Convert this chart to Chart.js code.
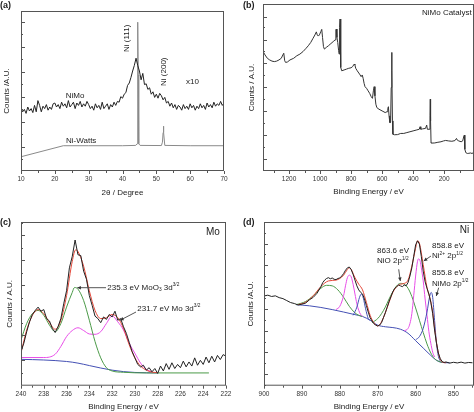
<!DOCTYPE html>
<html>
<head>
<meta charset="utf-8">
<script src="https://cdn.jsdelivr.net/npm/chart.js@4"></script>
<style>
  body { margin: 0; background: #fff; }
  #wrap { position: relative; width: 474px; height: 412px; }
  canvas { position: absolute; }
</style>
</head>
<body>
<div id="wrap">
  <canvas id="chartA" width="237" height="206" style="left:0;top:0"></canvas>
  <canvas id="chartB" width="237" height="206" style="left:237px;top:0"></canvas>
  <canvas id="chartC" width="237" height="206" style="left:0;top:206px"></canvas>
  <canvas id="chartD" width="237" height="206" style="left:237px;top:206px"></canvas>
</div>
<script>
Chart.defaults.font.family = "'Liberation Sans', Arial, sans-serif";
Chart.defaults.color = "#333";

// (a) XRD patterns
const xrdTicks = [10, 20, 30, 40, 50, 60, 70];
const xrdAngle = [10, 10.5, 11, 11.5, 12, 12.5, 13, 13.5, 14, 14.5, 15, 15.5, 16, 16.5, 17, 17.5, 18, 18.5, 19, 19.5,
  20, 20.5, 21, 21.5, 22, 22.5, 23, 23.5, 24, 24.5, 25, 25.5, 26, 26.5, 27, 27.5, 28, 28.5, 29, 29.5,
  30, 30.5, 31, 31.5, 32, 32.5, 33, 33.5, 34, 34.5, 35, 35.5, 36, 36.5, 37, 37.5, 38, 38.5, 39, 39.5,
  40, 40.5, 41, 41.5, 42, 42.5, 43, 43.5, 44, 44.5, 45, 45.5, 46, 46.5, 47, 47.5, 48, 48.5, 49, 49.5,
  50, 50.5, 51, 51.5, 52, 52.5, 53, 53.5, 54, 54.5, 55, 55.5, 56, 56.5, 57, 57.5, 58, 58.5, 59, 59.5,
  60, 60.5, 61, 61.5, 62, 62.5, 63, 63.5, 64, 64.5, 65, 65.5, 66, 66.5, 67, 67.5, 68, 68.5, 69, 69.5, 70];
const xrdNiMo = [39.5, 37, 38.5, 36, 40, 37.5, 39, 36.5, 41, 37, 44, 41, 37, 40.5, 39, 41.5, 38, 40, 38.5, 42,
  42.5, 40, 41.5, 39, 43, 40.5, 42, 39.5, 44, 40, 41.5, 43, 39, 42.5, 41, 43.5, 40, 42, 40.5, 43.5,
  41.5, 39, 40.5, 38, 42, 39.5, 41, 38.5, 43, 39, 40.5, 42, 38.5, 41.5, 40, 43, 41, 43.5, 43, 46.5,
  45.5, 48, 49, 53.5, 55, 58.5, 62.5, 66, 70.5, 66, 62.5, 57, 61, 54, 54.5, 51, 52, 48, 49.5, 46,
  48, 45.5, 48.5, 47, 44.5, 46, 42.5, 43.5, 40.5, 42.5, 39.5, 41.5, 38.5, 41, 40, 38, 41.5, 39, 40.5, 38.5,
  42, 39.5, 41, 38, 40.5, 39, 42, 39.5, 41, 38.5, 42.5, 40, 41.5, 39.5, 43, 40.5, 42, 41, 43.5, 41, 42.5];
const wattsAngle = [10, 22.5, 30, 40, 43.9, 44.3, 44.45, 44.55, 44.65, 44.8, 45.2, 51.5, 51.8, 52, 52.1, 52.2, 52.5, 60, 70];
const wattsCounts = [8.9, 15.8, 15.8, 15.8, 16, 17, 60, 93, 60, 17, 16, 15.9, 18, 24, 28, 24, 16, 15.8, 15.8];

// (b) survey spectrum
const surveyTicks = [200, 400, 600, 800, 1000, 1200];
const surveyEnergy = [1370, 1355, 1340, 1325, 1310, 1295, 1280, 1265, 1250, 1240, 1234, 1228, 1222, 1210, 1194, 1170, 1150, 1130,
  1110, 1090, 1076, 1060, 1045, 1033, 1024, 1018, 1011, 1004, 995, 989, 984, 978, 972, 960, 946, 930, 915, 903,
  898, 895, 891, 886, 880, 877, 874, 871, 868, 865, 860, 845, 830, 815, 800, 790, 780, 775, 770, 760, 745, 735,
  728, 722, 716, 710, 700, 690, 680, 670, 662, 656, 651, 646, 640, 634, 620, 600, 580, 568, 563, 559, 555, 550,
  545, 541, 538, 536, 533, 530, 520, 500, 480, 460, 440, 420, 400, 380, 360, 355, 350, 340, 320, 312, 308, 296,
  291, 289, 287, 284, 282, 260, 240, 220, 204, 190, 170, 150, 130, 120, 115, 105, 90, 80, 72, 69, 66, 60,
  50, 40, 30, 20, 10, 6];
const surveyCounts = [72, 69.5, 67.5, 66.5, 65.8, 65.5, 65.8, 66.5, 67.5, 69.5, 70.5, 66, 65, 65.3, 66.5, 67.5, 69, 70,
  71.5, 73.5, 75, 77, 79.5, 81.5, 83.3, 81.5, 80.8, 81.5, 83.5, 84.8, 80, 74.5, 73, 74, 75, 76.3, 77.5, 78.5,
  84.5, 85, 80, 77, 72, 70, 86, 91, 75, 62, 60, 60.5, 61, 61.5, 61.8, 62.5, 64, 63.5, 61.5, 60, 58, 56.5,
  57.5, 55.5, 52.5, 50.5, 49.5, 48, 46.5, 44.5, 43.5, 48, 50.5, 45, 40, 38, 37, 36, 35, 35.5, 37.5, 38.5, 33, 29,
  29, 50, 71, 60, 30, 22, 21.7, 21.8, 22.5, 22.5, 23, 23.5, 24, 24.5, 25, 26.5, 25, 25.2, 25.5, 27.5, 25, 25,
  33, 43, 30, 17, 16.7, 16.8, 17.2, 17.5, 18, 18.3, 18, 17.8, 18.2, 19.5, 18.5, 18, 17.5, 18, 21, 21.5, 13, 11,
  10.5, 10.6, 10.8, 10.5, 11, 12];

// (c) Mo 3d
const moTicks = [222, 224, 226, 228, 230, 232, 234, 236, 238, 240];
const moEnergy = [240, 239.75, 239.5, 239.25, 239, 238.75, 238.5, 238.25, 238, 237.75, 237.5, 237.25, 237, 236.75, 236.5, 236.25,
  236, 235.75, 235.5, 235.25, 235, 234.75, 234.5, 234.25, 234, 233.75, 233.5, 233.25, 233, 232.75, 232.5, 232.25,
  232, 231.75, 231.5, 231.25, 231, 230.75, 230.5, 230.25, 230, 229.75, 229.5, 229.25, 229, 228.75, 228.5, 228.25,
  228, 227.75, 227.5, 227.25, 227, 226.75, 226.5, 226.25, 226, 225.75, 225.5, 225.25, 225, 224.75, 224.5, 224.25,
  224, 223.75, 223.5, 223.25, 223, 222.75, 222.5, 222.25, 222];
const moRaw = [21, 26, 33, 39, 43.5, 46, 48, 45.5, 46.5, 41, 39.5, 35, 32.5, 36, 41, 50,
  58, 72, 79, 89, 80, 79.5, 70, 65, 55, 49, 42.5, 41, 38.5, 42, 40.5, 43.5,
  42, 45.5, 40, 41, 36, 32, 26.5, 21, 17, 13, 11.5, 12.5, 9.5, 11, 8.5, 10.5,
  7.5, 12, 9, 13.5, 10, 14, 10.5, 13, 11, 15, 11.5, 14.5, 12, 17, 12.5, 15.5,
  13, 17.5, 14, 18, 14.5, 18.5, 16, 19, 18];
const moFitE = [240, 239.5, 239, 238.5, 238, 237.5, 237, 236.5, 236, 235.5, 235.2, 235, 234.5, 234, 233.5, 233,
  232.5, 232, 231.5, 231, 230.5, 230, 229.5, 229, 228.5, 228];
const moFit = [20, 34, 43, 46.5, 44, 38.5, 34.5, 40, 55, 76, 83, 82, 73, 58, 46, 41,
  41.5, 43.5, 41.5, 35, 25, 17, 12, 9.5, 8.3, 8];
const moOxideE = [240, 239.5, 239, 238.5, 238, 237.5, 237, 236.5, 236, 235.5, 235.3, 235, 234.5, 234, 233.5, 233,
  232.5, 232, 231, 229, 223.5];
const moOxide = [28, 38, 44, 46, 43, 37, 33, 38, 48, 57, 60, 59, 52, 40, 27, 17,
  11, 9, 8.2, 7.8, 7.8];
const moMetalE = [240, 238, 237, 236.5, 236, 235.5, 235, 234.5, 234, 233.5, 233, 232.5, 232, 231.5, 231, 230.5,
  230, 229.5, 229, 228.5];
const moMetal = [17.2, 17.2, 19.2, 24, 30, 33.7, 35.4, 33.7, 31.6, 31.4, 33, 38, 42.6, 39, 34, 26,
  19.8, 13.8, 10, 8.5];
const moBgE = [240, 238, 236, 235, 234, 233, 232, 231, 230, 229, 228];
const moBg = [16.1, 15.7, 14.8, 13.8, 12.3, 10.8, 9.5, 8.6, 8.1, 7.9, 7.8];

// (d) Ni 2p
const niTicks = [850, 860, 870, 880, 890, 900];
const niEnergy = [900, 899, 898, 897, 896, 895, 894, 893, 892, 891, 890, 889, 888, 887, 886, 885, 884.5, 884, 883.5, 883,
  882.5, 882, 881.5, 881, 880.5, 880, 879.5, 879, 878.5, 878, 877.5, 877, 876.5, 876, 875.5, 875, 874.5, 874,
  873.5, 873, 872.5, 872, 871.5, 871, 870.5, 870, 869.5, 869, 868.5, 868, 867.5, 867, 866.5, 866, 865.5, 865,
  864.5, 864, 863.5, 863, 862.5, 862, 861.5, 861, 860.5, 860, 859.5, 859, 858.5, 858, 857.5, 857, 856.5, 856,
  855.5, 855, 854.5, 854, 853.5, 853, 852.5, 852, 851, 850, 849, 848, 847, 846, 845];
const niRaw = [54.8, 55.3, 54.5, 54.9, 53.8, 53.2, 52, 50.8, 50.2, 49.3, 49.8, 50.5, 52.5, 54, 56.5, 60.5, 63, 64.5, 65.5, 66,
  65.3, 65.8, 65, 64.8, 65.5, 65.8, 67, 68.5, 70.5, 72, 72.5, 71, 68, 64.5, 61, 58.5, 57, 56,
  53, 49, 45, 41.5, 39.5, 37.8, 37, 36.5, 37, 38.5, 41.5, 44.5, 48, 51.5, 54.5, 57.5, 59.5, 60.5,
  61.5, 61, 60.5, 61.5, 61, 63, 67, 72, 79, 86, 88.5, 86.5, 79, 70, 63.5, 59.5, 56, 51,
  44, 34, 26, 20, 16.5, 14.8, 14.2, 14.5, 13.8, 14.3, 13.9, 14.4, 13.8, 14.2, 14];
const niFitE = [891, 889, 887, 885, 883, 881, 880, 879, 878, 877.5, 877, 876, 875, 874, 873, 872, 871, 870, 869, 868,
  867, 866, 865, 864, 863, 862, 861, 860, 859.5, 859, 858, 857, 856, 855.5, 855, 854, 853, 852];
const niFit = [49.5, 51, 55, 60.5, 64, 64.5, 65.5, 67.5, 71, 72, 71, 66, 62, 58.5, 51, 43, 38.5, 36.5, 39, 44.5,
  51, 57, 60.5, 62, 62.5, 64.5, 73, 84, 88.5, 87, 74, 60, 51.5, 45, 35, 20, 14.5, 14];
const niBgE = [891.5, 888, 885, 882, 879, 876, 874, 872, 870, 868, 866, 864, 862, 860, 858, 856, 854.5, 853, 851];
const niBg = [49.5, 48.8, 47.8, 46.5, 45, 43.4, 42.3, 40, 37, 36, 35.5, 34.5, 32, 27.5, 23, 18.5, 15.5, 14.2, 14];
const niSat1E = [891.5, 889, 887, 885, 883.5, 882, 880.5, 879, 877.5, 876, 875, 874];
const niSat1 = [49.5, 51.5, 55, 59.5, 61.3, 61, 58.5, 54, 48.5, 44.5, 43, 42.3];
const niSat2E = [871.5, 870, 869, 868, 867, 866, 865, 864, 863, 862, 861, 860, 859, 858, 857, 856, 855, 854, 853];
const niSat2 = [38.5, 41, 44, 48, 53, 57.5, 61, 62.5, 62, 59.5, 54.5, 47.5, 40, 32.5, 25.5, 20, 16.5, 15, 14.3];
const niPink1E = [881, 880, 879, 878.5, 878, 877.5, 877, 876.5, 876, 875.5, 875, 874.5, 874];
const niPink1 = [46.5, 48.5, 55, 61, 66, 67.5, 66.5, 62, 56, 50, 46, 43.5, 42.5];
const niPink2E = [863, 862, 861.5, 861, 860.5, 860, 859.5, 859.2, 858.8, 858.5, 858, 857.5, 857, 856.5, 856, 855.5, 855];
const niPink2 = [33.5, 35, 38, 44, 55, 67, 76, 77.5, 76, 72, 64, 53, 43, 33, 26, 20.5, 17.5];
const niBlue1E = [876.5, 875.5, 874.8, 874.3, 873.8, 873.2, 872.5, 872];
const niBlue1 = [43, 48, 54, 56, 53.5, 47, 41, 40];
const niBlue2E = [860, 859, 858, 857, 856.3, 855.9, 855.5, 855, 854.5, 854, 853.5];
const niBlue2 = [28, 30, 35, 45, 54.5, 57, 54, 40, 26, 18, 15];

const pts = (xs, ys) => xs.map((x, i) => ({ x: x, y: ys[i] }));

const RED = "#e4483a", GREEN = "#4b9a48", PINK = "#e84de8", BLUE = "#4450b4", INK = "#222";

function line(xs, ys, color, smooth) {
  return {
    data: pts(xs, ys),
    borderColor: color,
    borderWidth: 1,
    pointRadius: 0,
    fill: false,
    cubicInterpolationMode: smooth ? "monotone" : "default",
    tension: 0,
  };
}

// frame, inward y ticks, outward x ticks, notes and arrows
const deco = {
  id: "deco",
  afterDraw(chart, args, opts) {
    const ctx = chart.ctx;
    const a = chart.chartArea;
    const xs = chart.scales.x, ys = chart.scales.y;
    ctx.save();
    ctx.strokeStyle = "#555";
    ctx.lineWidth = 1;
    ctx.strokeRect(a.left + 0.5, a.top + 0.5, a.right - a.left - 1, a.bottom - a.top - 1);
    ctx.beginPath();
    xs.ticks.forEach((t) => {
      const p = Math.round(xs.getPixelForValue(t.value)) + 0.5;
      ctx.moveTo(p, a.bottom);
      ctx.lineTo(p, a.bottom + 3);
    });
    const lo = Math.min(xs.min, xs.max), hi = Math.max(xs.min, xs.max);
    for (let v = Math.ceil(lo / opts.xMinor) * opts.xMinor; v <= hi; v += opts.xMinor) {
      const p = Math.round(xs.getPixelForValue(v)) + 0.5;
      ctx.moveTo(p, a.bottom);
      ctx.lineTo(p, a.bottom + 2);
    }
    const yt = opts.yTicks;
    const step = yt[1] - yt[0];
    yt.forEach((v) => {
      const p = Math.round(ys.getPixelForValue(v)) + 0.5;
      ctx.moveTo(a.left, p);
      ctx.lineTo(a.left + 4, p);
    });
    for (let i = -1; i < yt.length; i++) {
      const v = yt[0] + (i + 0.5) * step;
      if (v <= 0 || v >= 100) continue;
      const p = Math.round(ys.getPixelForValue(v)) + 0.5;
      ctx.moveTo(a.left, p);
      ctx.lineTo(a.left + 2, p);
    }
    ctx.stroke();

    (opts.arrows || []).forEach((ar) => {
      const [x1, y1, x2, y2] = ar;
      ctx.strokeStyle = "#555";
      ctx.fillStyle = "#333";
      ctx.beginPath();
      ctx.moveTo(x1, y1);
      ctx.lineTo(x2, y2);
      ctx.stroke();
      const ang = Math.atan2(y2 - y1, x2 - x1);
      ctx.beginPath();
      ctx.moveTo(x2, y2);
      ctx.lineTo(x2 - 4 * Math.cos(ang - 0.45), y2 - 4 * Math.sin(ang - 0.45));
      ctx.lineTo(x2 - 4 * Math.cos(ang + 0.45), y2 - 4 * Math.sin(ang + 0.45));
      ctx.closePath();
      ctx.fill();
    });

    (opts.notes || []).forEach((n) => {
      const size = n.size || 8;
      const parts = typeof n.text === "string" ? [[n.text]] : n.text;
      const fontFor = (p) => (n.bold ? "bold " : "") + (p[1] ? size * 0.6 : size) + "px 'Liberation Sans', Arial, sans-serif";
      ctx.save();
      ctx.translate(n.x, n.y);
      if (n.rot) ctx.rotate(n.rot);
      ctx.fillStyle = "#222";
      ctx.textBaseline = "middle";
      ctx.textAlign = "left";
      let x = 0;
      if (n.center) {
        let w = 0;
        parts.forEach((p) => { ctx.font = fontFor(p); w += ctx.measureText(p[0]).width; });
        x = -w / 2;
      }
      parts.forEach((p) => {
        ctx.font = fontFor(p);
        const dy = p[1] === "sup" ? -size * 0.35 : p[1] === "sub" ? size * 0.3 : 0;
        ctx.fillText(p[0], x, dy);
        x += ctx.measureText(p[0]).width;
      });
      ctx.restore();
    });
    ctx.restore();
  },
};

function xAxis(min, max, tickVals, rev, title, height, labelPad, titlePad) {
  return {
    type: "linear",
    min: min,
    max: max,
    reverse: rev,
    grid: { display: false, drawTicks: false },
    border: { display: false },
    afterBuildTicks: (s) => { s.ticks = tickVals.map((v) => ({ value: v })); },
    ticks: {
      autoSkip: false,
      maxRotation: 0,
      padding: labelPad,
      font: { size: 6.5 },
      color: "#333",
      callback: (v) => String(v),
    },
    title: { display: true, text: title, color: "#222", font: { size: 8 }, padding: { top: 0, bottom: titlePad } },
    afterFit: (s) => { s.height = height; },
  };
}

function yAxis(width, title, titlePad) {
  return {
    type: "linear",
    min: 0,
    max: 100,
    grid: { display: false, drawTicks: false },
    border: { display: false },
    ticks: { display: false },
    title: { display: true, text: title, color: "#222", font: { size: 8 }, padding: { top: titlePad, bottom: 0 } },
    afterFit: (s) => { s.width = width; },
  };
}

function makeChart(id, datasets, scales, pad, decoOpts) {
  return new Chart(document.getElementById(id), {
    type: "line",
    data: { datasets: datasets },
    options: {
      responsive: false,
      maintainAspectRatio: false,
      devicePixelRatio: 1,
      animation: false,
      events: [],
      layout: { padding: pad },
      scales: scales,
      plugins: { legend: { display: false }, tooltip: { enabled: false }, deco: decoOpts },
    },
    plugins: [deco],
  });
}

// (a)
makeChart("chartA",
  [line(xrdAngle, xrdNiMo, "#222"), line(wattsAngle, wattsCounts, "#8a8a8a")],
  { x: xAxis(10, 70, xrdTicks, false, "2θ / Degree", 35, 4, 8), y: yAxis(21, "Counts /A.U.", 2) },
  { left: 0, top: 11, right: 13, bottom: 0 },
  {
    xMinor: 5,
    yTicks: [15.2, 30.8, 46.4, 62.1, 77.7, 93.3],
    notes: [
      { x: 0, y: 6, text: "(a)", bold: true, size: 9 },
      { x: 126.7, y: 38.3, text: "Ni (111)", rot: -Math.PI / 2, center: true },
      { x: 163.3, y: 71.7, text: "Ni (200)", rot: -Math.PI / 2, center: true },
      { x: 186, y: 81.7, text: "x10" },
      { x: 65.7, y: 96, text: "NiMo" },
      { x: 66, y: 140.7, text: "Ni-Watts" },
    ],
  });

// (b)
makeChart("chartB",
  [line(surveyEnergy, surveyCounts, "#333")],
  { x: xAxis(7, 1368, surveyTicks, true, "Binding Energy / eV", 35, 4, 9), y: yAxis(26, "Counts / A.U.", 10) },
  { left: 0, top: 4, right: 0, bottom: 0 },
  {
    xMinor: 100,
    yTicks: [7.2, 21.6, 35.9, 50.3, 64.7, 78.4, 92.2],
    notes: [
      { x: 6, y: 6, text: "(b)", bold: true, size: 9 },
      { x: 185, y: 12.7, text: "NiMo Catalyst" },
    ],
  });

// (c)
makeChart("chartC",
  [
    line(moEnergy, moRaw, INK),
    line(moFitE, moFit, RED, true),
    line(moOxideE, moOxide, GREEN, true),
    line(moMetalE, moMetal, PINK, true),
    line(moBgE, moBg, BLUE, true),
  ],
  { x: xAxis(222, 240, moTicks, true, "Binding Energy / eV", 26.3, 5, 0), y: yAxis(21, "Counts / A.U.", 5) },
  { left: 0, top: 16, right: 11, bottom: 0 },
  {
    xMinor: 1,
    yTicks: [15.4, 30.7, 46, 61.3, 76.6, 91.9],
    arrows: [[106, 81.7, 77.3, 81.7], [136, 106, 120, 114.3]],
    notes: [
      { x: 0, y: 16.3, text: "(c)", bold: true, size: 9 },
      { x: 206, y: 26, text: "Mo", size: 10 },
      { x: 107.3, y: 81.7, text: [["235.3 eV MoO"], ["3", "sub"], [" 3d"], ["3/2", "sup"]] },
      { x: 137.3, y: 102.7, text: [["231.7 eV Mo 3d"], ["3/2", "sup"]] },
    ],
  });

// (d)
makeChart("chartD",
  [
    line(niEnergy, niRaw, INK),
    line(niFitE, niFit, RED, true),
    line(niBlue1E, niBlue1, BLUE, true),
    line(niBlue2E, niBlue2, BLUE, true),
    line(niPink1E, niPink1, PINK, true),
    line(niPink2E, niPink2, PINK, true),
    line(niSat1E, niSat1, GREEN, true),
    line(niSat2E, niSat2, GREEN, true),
    line(niBgE, niBg, BLUE, true),
  ],
  { x: xAxis(844.6, 900, niTicks, true, "Binding Energy / eV", 26.3, 5, 0), y: yAxis(27, "Counts /A.U.", 8.5) },
  { left: 0, top: 16, right: 0, bottom: 0 },
  {
    xMinor: 5,
    yTicks: [7, 20.3, 33.6, 46.9, 60.2, 73.5, 86.8],
    arrows: [[161.7, 63.3, 163.3, 75], [194, 50, 186.7, 55], [201.7, 81.7, 199.3, 90]],
    notes: [
      { x: 6, y: 16.7, text: "(d)", bold: true, size: 9 },
      { x: 222.7, y: 24, text: "Ni", size: 10 },
      { x: 140, y: 45, text: "863.6 eV" },
      { x: 140, y: 55, text: [["NiO 2p"], ["1/2", "sup"]] },
      { x: 195, y: 40, text: "858.8 eV" },
      { x: 195, y: 50, text: [["Ni"], ["2+", "sup"], [" 2p"], ["1/2", "sup"]] },
      { x: 195, y: 66.7, text: "855.8 eV" },
      { x: 195, y: 77.3, text: [["NiMo 2p"], ["1/2", "sup"]] },
    ],
  });
</script>
</body>
</html>
